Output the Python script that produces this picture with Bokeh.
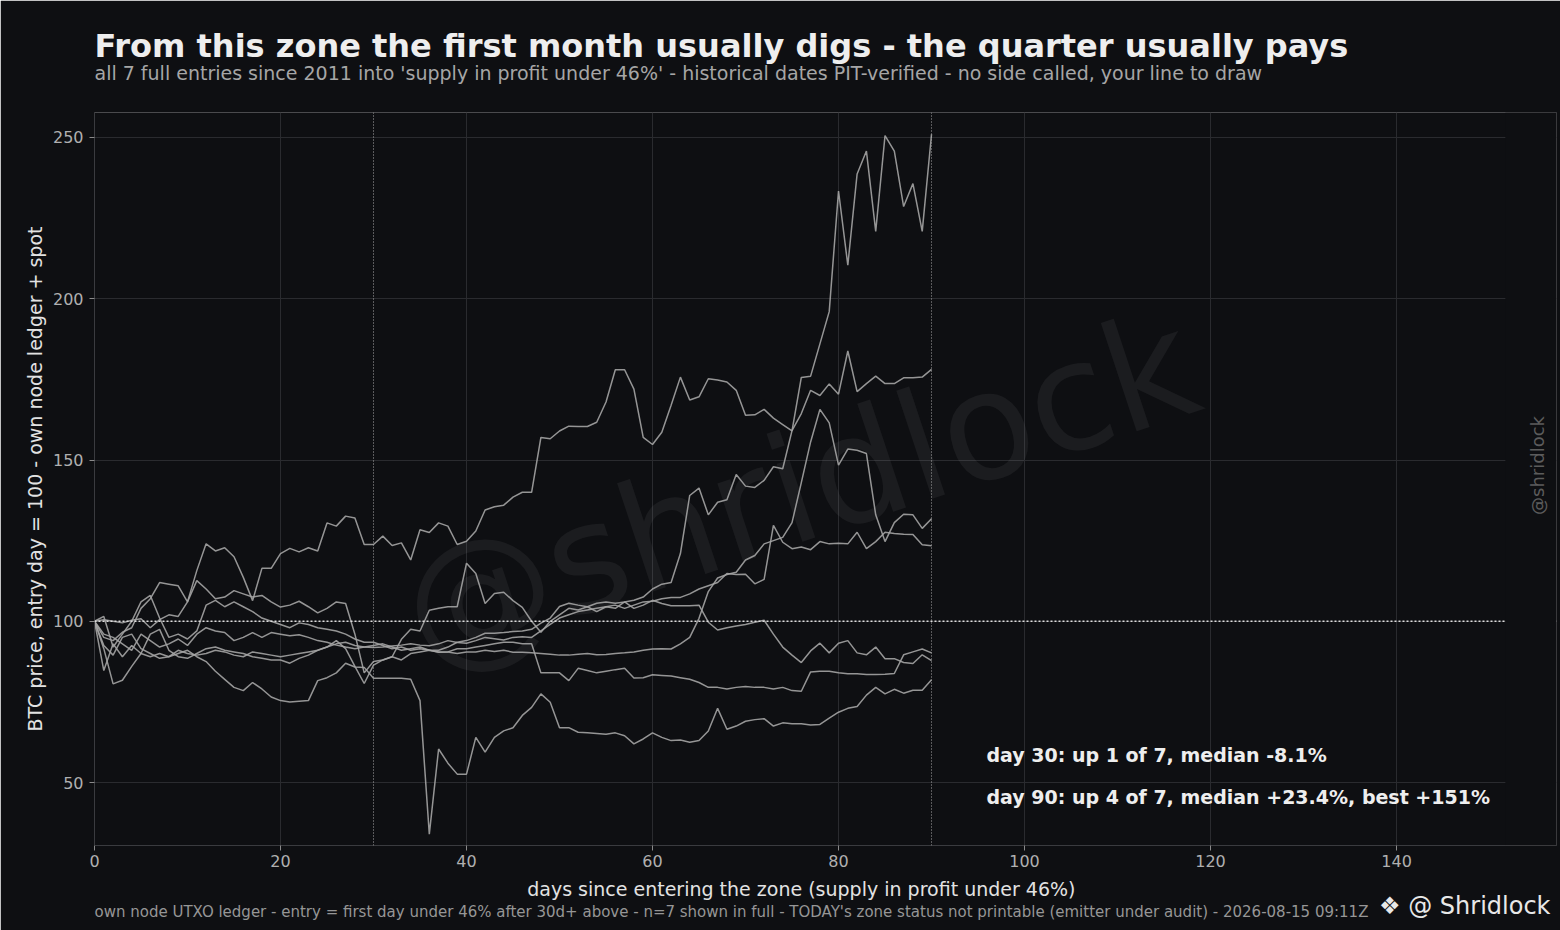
import math
from bokeh.plotting import figure
from bokeh.models import Span, Label, Range1d, FixedTicker, Title, BoxAnnotation
from bokeh.embed import file_html
from bokeh.resources import INLINE

# ---------------- data ----------------
days = list(range(91))

entry_a = [100, 100.5, 100, 99.5, 100.3, 100.8, 98, 100.5, 102, 101.5,
           106, 115.7, 124, 121.8, 122.8, 120, 113.6, 106.4, 116.4, 116.4,
           121, 122.6, 121.5, 122.8, 121.8, 130.5, 129.5, 132.6, 132, 123.8,
           123.8, 126.4, 123.5, 124.3, 119, 128.4, 127.5, 130.5, 129.5, 123.8,
           124.8, 128, 134.5, 135.5, 136, 138.5, 140, 140, 157, 156.6,
           159, 160.5, 160.4, 160.4, 161.7, 168, 178, 178, 172, 157,
           154.8, 158.6, 167, 175.7, 168.6, 169.6, 175.2, 174.8, 174.2, 171.6,
           163.9, 164, 165.7, 163, 161, 159, 175.6, 176, 186, 196,
           233.4, 210.4, 238.7, 245.8, 220.9, 250.6, 245.8, 228.6, 235.7, 220.9, 251]

entry_b = [100, 101.5, 92, 96, 100, 106, 108, 101, 95, 96,
           94.5, 97, 105, 106.5, 104.5, 106, 104.5, 103, 101, 100,
           99, 98, 99.5, 99, 98, 97.5, 97, 96, 94.5, 93.5,
           93.5, 92.5, 91.5, 92, 91, 91.5, 91, 91, 92, 93.5,
           94, 95, 96.3, 96.3, 96.5, 96.8, 97, 97.5, 99.4, 101,
           104.6, 105.6, 105, 104.5, 105.6, 106, 105.6, 106, 106.5, 107.5,
           110, 111.5, 112, 121, 139, 141.3, 133, 136.9, 137.7, 145.5,
           141.9, 141.5, 143.7, 147.9, 147.3, 159.1, 164.4, 171.6, 170, 173.6,
           170.4, 183.8, 171.2, 173.7, 176, 173.7, 173.7, 175.5, 175.5, 175.7, 178.1]

entry_c = [100, 96, 95, 93, 91, 96, 94, 92, 93, 94.5,
           92.5, 96, 98, 97, 96.5, 94, 95, 96.5, 95, 96.5,
           96, 95.5, 95.8, 95, 94, 93.5, 92.6, 92, 91.5, 92,
           92.5, 93, 92, 91, 91.5, 92, 91, 90.5, 90.5, 90,
           90.5, 90.5, 91, 90.6, 91, 90.4, 90.4, 90.2, 90, 89.8,
           89.5, 89.5, 89.8, 90, 89.6, 89.7, 90, 90.2, 90.5, 91,
           91.4, 91.5, 91.4, 93, 95, 100.9, 109.2, 113.4, 114.5, 115.2,
           119, 120.4, 124, 125, 126, 130.6, 143, 155.6, 165.7, 161.5,
           148.4, 153.4, 153, 152, 133, 124.7, 130.6, 133.2, 133, 128.8, 131.8]

entry_d = [100, 84.7, 93, 89, 92.5, 90, 89, 90, 89, 91,
           90, 89.5, 90, 91, 90.5, 89.5, 89, 90.5, 90, 89.5,
           89, 89.5, 90, 90.5, 91, 92, 93, 93.5, 92.5, 92,
           91.9, 92, 92.3, 92.6, 93, 92.6, 92.4, 93, 94, 93.4,
           93.2, 94, 95, 94.6, 94.2, 95, 95.2, 95, 97, 99,
           101, 102, 103, 103.5, 104, 104.5, 105, 104, 105, 106,
           106.2, 107, 107.4, 107.4, 108.5, 110, 111, 112, 114.8, 114.5,
           114.6, 111.6, 113, 129.7, 124.5, 122.5, 123, 122.2, 124.7, 124,
           124.2, 124, 127.6, 122.5, 124.7, 127.6, 127.2, 127, 126.9, 123.7, 123.4]

entry_e = [100, 95, 94, 96.6, 98, 104, 107, 112, 111.5, 111,
           106, 112.6, 110, 107, 107.5, 109.5, 108.5, 107.5, 108, 106,
           104.4, 105, 106.2, 104.5, 102.6, 104, 106, 105.5, 96, 84,
           87.5, 88, 89, 94.4, 97.5, 97, 103.4, 104, 104.5, 104.5,
           118, 114.8, 105.5, 108.6, 109, 106.4, 104.3, 100, 96.6, 100,
           102, 104, 103.5, 104.5, 103, 104.5, 104, 106, 104, 105,
           106.5, 105.5, 104.8, 104.8, 104.8, 105, 99.7, 97.3, 98, 98.5,
           99, 99.7, 100.3, 96, 92, 89.5, 87.2, 90.8, 93.2, 90.2,
           93.2, 94, 90.2, 89.6, 92, 88.4, 88.4, 87.2, 86.9, 89.6, 87.8]

entry_f = [100, 91.5, 80.6, 81.7, 86, 90, 96, 97.5, 91, 89,
           88.5, 90, 91.5, 92, 91, 90.5, 90, 89, 88.5, 88,
           88, 87, 88.5, 89.5, 91, 92, 94, 91.5, 86, 80.7,
           86.4, 88, 89, 88, 90, 90.5, 91, 90.4, 90.5, 91.5,
           91.5, 92, 92.5, 93, 93.5, 93.5, 93, 93, 84, 84,
           84, 81.6, 85.4, 84.7, 84, 84.5, 85, 85.4, 82.4, 82.5,
           83.4, 83.2, 83, 82.5, 82, 81, 79.5, 79.5, 79, 79.5,
           79.8, 79.5, 79.5, 79, 79.5, 78.5, 78.3, 84.3, 84.5, 84.5,
           84, 83.7, 83.7, 83.5, 83.5, 83.6, 83.8, 89.6, 90.5, 91.4, 90.2]

entry_g = [100, 92.5, 89.5, 95, 96, 91.5, 90, 88.5, 89, 90,
           91, 89, 87.5, 84.5, 82, 79.5, 78.5, 81, 79, 76.5,
           75.4, 75, 75.2, 75.4, 81.6, 82.5, 84, 87, 85.8, 85.7,
           82.3, 82.3, 82.3, 82.3, 82, 75.4, 34, 60.4, 56, 52.6,
           52.6, 64, 59.4, 64, 66, 67, 70.8, 73.3, 77.5, 74.9,
           67, 67, 65.6, 65.4, 65.2, 65, 65.4, 64.5, 62, 63.5,
           65.4, 64, 63, 63.2, 62.5, 63, 66, 73, 66.5, 67.5,
           69, 69.5, 69.8, 67.5, 68.5, 68.2, 68.2, 67.8, 68, 70,
           71.8, 73, 73.6, 77.1, 79.5, 77.5, 78.9, 77.7, 78.6, 78.6, 81.9]

entries = [entry_a, entry_b, entry_c, entry_d, entry_e, entry_f, entry_g]

x_ticks = [0, 20, 40, 60, 80, 100, 120, 140]
y_ticks = [50, 100, 150, 200, 250]
baseline_level = 100
checkpoints = [30, 90]

title_text = "From this zone the first month usually digs - the quarter usually pays"
subtitle_text = ("all 7 full entries since 2011 into 'supply in profit under 46%' - "
                 "historical dates PIT-verified - no side called, your line to draw")
note_30 = "day 30: up 1 of 7, median -8.1%"
note_90 = "day 90: up 4 of 7, median +23.4%, best +151%"
footer_text = ("own node UTXO ledger - entry = first day under 46% after 30d+ above - "
               "n=7 shown in full - TODAY's zone status not printable (emitter under audit) - "
               "2026-08-15 09:11Z")
logo_text = "\u2756 @ Shridlock"
side_mark = "@shridlock"
x_label = "days since entering the zone (supply in profit under 46%)"
y_label = "BTC price, entry day = 100 - own node ledger + spot"

# ---------------- figure ----------------
BG = "#0e0f12"
FONT = "DejaVu Sans"
X_AXIS_END = 151.7          # where the reference's plotting area ends
X_VIEW_END = 157.2          # frame extended to the right to host the side mark

p = figure(width=1560, height=930, output_backend="svg", toolbar_location=None,
           x_range=Range1d(0, X_VIEW_END), y_range=Range1d(30.47, 257.75),
           min_border_left=94, min_border_right=4, min_border_top=112,
           min_border_bottom=85)
p.background_fill_color = BG
p.border_fill_color = BG
p.outline_line_color = None
p.outline_line_alpha = 0

# grid
p.xgrid.ticker = FixedTicker(ticks=x_ticks)
p.ygrid.ticker = FixedTicker(ticks=y_ticks)
for g in (p.xgrid, p.ygrid):
    g.grid_line_color = "#2a2b2f"
    g.grid_line_width = 1

# axes
p.xaxis.ticker = FixedTicker(ticks=x_ticks)
p.yaxis.ticker = FixedTicker(ticks=y_ticks)
p.xaxis.bounds = (0, X_AXIS_END)
for ax in (p.xaxis, p.yaxis):
    ax.axis_line_color = "#3a3b3f"
    ax.major_tick_line_color = "#8a8a8a"
    ax.major_tick_out = 5
    ax.major_tick_in = 0
    ax.minor_tick_line_color = None
    ax.major_label_text_color = "#b0b0b0"
    ax.major_label_text_font = FONT
    ax.major_label_text_font_size = "16px"
    ax.axis_label_text_color = "#e2e2e2"
    ax.axis_label_text_font = FONT
    ax.axis_label_text_font_size = "19px"
    ax.axis_label_text_font_style = "normal"
# trailing no-break spaces re-centre the label on the reference's plotting area
p.xaxis.axis_label = x_label + "\u00a0" * 8
p.yaxis.axis_label = y_label
p.xaxis.major_label_standoff = 4
p.yaxis.major_label_standoff = 6
p.xaxis.axis_label_standoff = 8
p.yaxis.axis_label_standoff = 4

# titles above (first added = nearest to the frame)
p.add_layout(Title(text=" ", text_font=FONT, text_font_size="10px", standoff=14,
                   text_color=BG), "above")
p.add_layout(Title(text=subtitle_text, align="left", vertical_align="top", standoff=0,
                   text_font=FONT, text_font_size="19px", text_font_style="normal",
                   text_color="#a6a6a6"), "above")
p.add_layout(Title(text=title_text, align="left", vertical_align="bottom", standoff=-6,
                   text_font=FONT, text_font_size="32px", text_font_style="bold",
                   text_color="#eeeeee"), "above")

# footer and logo below the x axis
p.add_layout(Title(text=footer_text, align="left", vertical_align="top", standoff=0,
                   text_font=FONT, text_font_size="15px", text_font_style="normal",
                   text_color="#969696"), "below")
p.add_layout(Title(text=logo_text, align="right", vertical_align="top", standoff=-62,
                   offset=6, text_font=FONT, text_font_size="24px",
                   text_font_style="normal", text_color="#e8e8e8"), "below")

# watermark (faint, big, rotated)
p.add_layout(Label(x=75.7, y=141.2, text="@shridlock", angle=0.32,
                   text_align="center", text_baseline="middle",
                   text_font=FONT, text_font_size="150px",
                   text_color="#ffffff", text_alpha=0.055, level="underlay"))

# reference lines
p.add_layout(Span(location=baseline_level, dimension="width", line_color="#dcdcdc",
                  line_dash="2 2", line_width=1.3))
for c in checkpoints:
    p.add_layout(Span(location=c, dimension="height", line_color="#a8a8a8",
                      line_dash="1 2", line_width=1))

# mask the strip to the right of the plotting area
p.add_layout(BoxAnnotation(left=X_AXIS_END, fill_color=BG, fill_alpha=1,
                           line_color=None))

# series
for vals in entries:
    p.line(days, vals, line_color="#a4a4a4", line_width=1.5, line_alpha=0.9)

# in-plot notes
p.add_layout(Label(x=95.9, y=58.4, text=note_30, text_align="left", text_baseline="middle",
                   text_font=FONT, text_font_size="19px", text_font_style="bold",
                   text_color="#eeeeee"))
p.add_layout(Label(x=95.9, y=45.4, text=note_90, text_align="left", text_baseline="middle",
                   text_font=FONT, text_font_size="19px", text_font_style="bold",
                   text_color="#eeeeee"))

# side mark on the right
p.add_layout(Label(x=155.2, y=148.3, text=side_mark, angle=math.pi / 2,
                   text_align="center", text_baseline="middle",
                   text_font=FONT, text_font_size="18px", text_color="#5c5c5c"))

open("out.html", "w").write(file_html(p, INLINE))
